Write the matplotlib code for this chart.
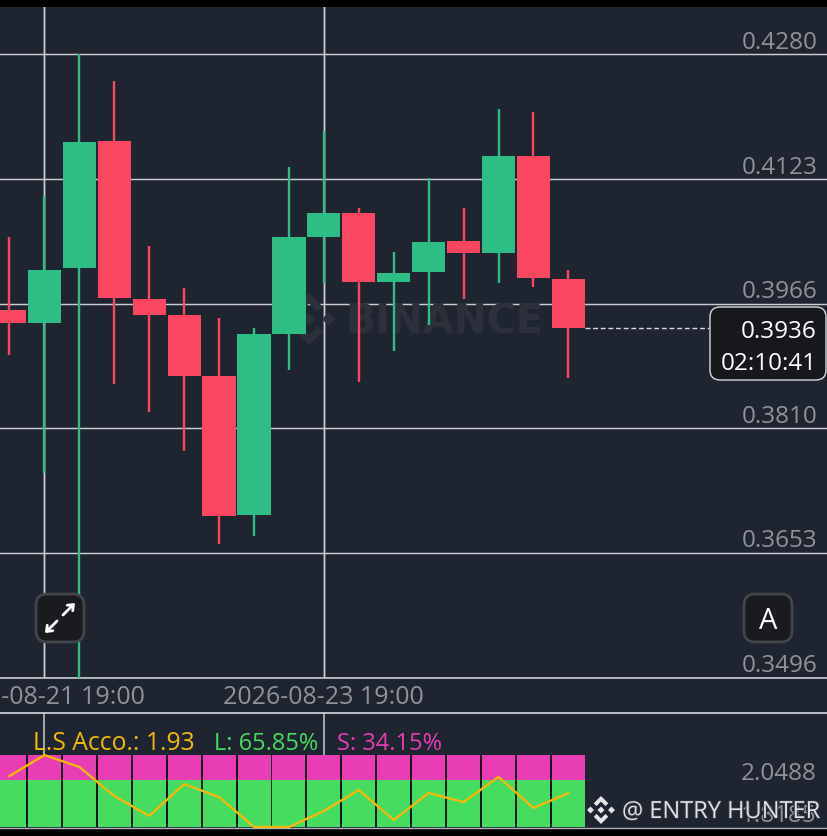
import matplotlib
matplotlib.use("Agg")
import matplotlib.pyplot as plt
import matplotlib.patheffects as pe
from matplotlib.patches import FancyBboxPatch, Polygon

# candles, in price units
opens = [0.3958, 0.3942, 0.4011, 0.4171, 0.3972, 0.3952, 0.3875, 0.3700, 0.3928,
         0.4050, 0.4080, 0.3993, 0.4006, 0.4045, 0.4030, 0.4152, 0.3997]
closes = [0.3942, 0.4008, 0.4169, 0.3973, 0.3952, 0.3875, 0.3699, 0.3928, 0.4050,
          0.4080, 0.3993, 0.4005, 0.4044, 0.4030, 0.4152, 0.3998, 0.3936]
highs = [0.4050, 0.4101, 0.4280, 0.4246, 0.4039, 0.3986, 0.3948, 0.3936, 0.4138,
         0.4183, 0.4086, 0.4031, 0.4124, 0.4086, 0.4211, 0.4207, 0.4008]
lows = [0.3902, 0.3753, 0.3480, 0.3865, 0.3830, 0.3781, 0.3664, 0.3674, 0.3883,
        0.3992, 0.3868, 0.3907, 0.3939, 0.3972, 0.3992, 0.3987, 0.3873]

# long/short account panel
long_pct = [65.4, 65.8, 65.5, 65.4, 65.3, 65.3, 65.3, 65.4, 65.3,
            65.3, 65.3, 65.3, 65.3, 65.4, 65.3, 65.5, 65.85]
ratio = [2.026, 2.144, 2.077, 1.914, 1.802, 1.981, 1.908, 1.740, 1.740,
         1.830, 1.948, 1.779, 1.931, 1.880, 2.021, 1.847, 1.930]

price_ticks = [0.4280, 0.4123, 0.3966, 0.3810, 0.3653, 0.3496]
ratio_ticks = [2.0488, 1.8185]
time_idx = [1, 9]
time_labels = ["2026-08-21 19:00", "2026-08-23 19:00"]
last_price = 0.3936

BG = "#1f2530"
GREEN = "#2ebd85"
RED = "#fb4661"
GRID = "#c9ccd1"
LABEL = "#8f9297"
FONT = "Open Sans"
FS = 17.5

W, H = 828, 836
plt.rcParams["font.family"] = [FONT, "DejaVu Sans"]
fig = plt.figure(figsize=(W / 100, H / 100), dpi=100, facecolor="black")


def box(top, bottom):
    return [0, 1 - bottom / H, 1, (bottom - top) / H]


xlim = (-9.5 / 34.93, (W - 9.5) / 34.93)
xs = list(range(len(opens)))

# overlay in pixel units, for the buttons and logos
top = fig.add_axes([0, 0, 1, 1], zorder=10)
top.set_xlim(0, W)
top.set_ylim(H, 0)
top.axis("off")


def logo(ax, cx, cy, r, color, zorder=5, **kw):
    shapes = [
        [(0, -.25), (.25, 0), (0, .25), (-.25, 0)],
        [(-.75, -.25), (-.5, 0), (-.75, .25), (-1, 0)],
        [(.75, -.25), (1, 0), (.75, .25), (.5, 0)],
        [(0, -1), (.52, -.48), (.32, -.28), (0, -.6), (-.32, -.28), (-.52, -.48)],
        [(0, 1), (.52, .48), (.32, .28), (0, .6), (-.32, .28), (-.52, .48)],
    ]
    for s in shapes:
        pts = [(cx + a * r, cy + b * r) for a, b in s]
        ax.add_patch(Polygon(pts, closed=True, fc=color, ec="none", zorder=zorder,
                             transform=top.transData, **kw))


# ---- main price panel
ax = fig.add_axes(box(7, 677.5), facecolor=BG)
ax.set_xlim(*xlim)
ax.set_ylim(0.3496, 0.4280 + 47 * 0.00012574)
for s in ax.spines.values():
    s.set_visible(False)
ax.spines["bottom"].set_visible(True)
ax.spines["bottom"].set_color(GRID)
ax.spines["bottom"].set_linewidth(1.2)

ax.set_yticks(price_ticks)
ax.set_yticklabels([])
ax.set_xticks(time_idx)
ax.set_xticklabels(time_labels, fontsize=18, color=LABEL)
ax.tick_params(axis="both", length=0, pad=5.5)
ax.grid(True, color=GRID, lw=1.05, zorder=1)
ax.set_axisbelow(True)

for p in price_ticks:
    ax.annotate(f"{p:.4f}", xy=(1, p), xycoords=ax.get_yaxis_transform(),
                xytext=(-7.5, 3.8), textcoords="offset points", ha="right", va="baseline",
                fontsize=FS, color=LABEL, annotation_clip=False, zorder=4)

ax.text(345, 334, "BINANCE", transform=top.transData, fontsize=28.5, fontweight="bold",
        family="DejaVu Sans", color="#2b303a", va="baseline", ha="left", zorder=1.5)
logo(ax, 309, 319, 26, "#2b303a", zorder=1.5)

colors = [GREEN if c >= o else RED for o, c in zip(opens, closes)]
ax.vlines(xs, lows, highs, colors=colors, lw=1.7, zorder=3)
ax.bar(xs, [abs(c - o) for o, c in zip(opens, closes)],
       bottom=[min(o, c) for o, c in zip(opens, closes)],
       width=0.95, color=colors, zorder=3.5)

# last price dashed line, from the last candle to the box
ax.hlines(last_price, xs[-1] + 0.475, (709 - 9.5) / 34.93, colors="#d5d7da", lw=1,
          linestyles=(0, (3.5, 2)), zorder=3)

# ---- strip under the price panel, long/short panel
strip = fig.add_axes(box(677.5, 828), facecolor=BG, zorder=-1)
strip.set_xticks([])
strip.set_yticks([])
for s in strip.spines.values():
    s.set_visible(False)

low = fig.add_axes(box(713, 828), facecolor=BG)
low.set_xlim(*xlim)
low.set_ylim(-1.39, 158.3)
for s in low.spines.values():
    s.set_visible(False)
low.spines["top"].set_visible(True)
low.spines["top"].set_color(GRID)
low.spines["top"].set_linewidth(1.3)
low.spines["bottom"].set_visible(True)
low.spines["bottom"].set_color("#aeb1b6")
low.spines["bottom"].set_linewidth(1)
low.set_xticks([])
low.set_yticks([])
low.vlines(time_idx, 100, 158.3, colors=GRID, lw=1.1, zorder=1)
short_pct = [100 - v for v in long_pct]
low.axhspan(0, 100, xmin=0, xmax=(xs[-1] + 0.475 - xlim[0]) / (xlim[1] - xlim[0]),
            color="#15181d", lw=0, zorder=1.5)
low.bar(xs, long_pct, width=0.945, color="#46dc5f", zorder=2)
low.bar(xs, short_pct, bottom=long_pct, width=0.945, color="#e83db4", zorder=2)

line = low.twinx()
line.set_xlim(*xlim)
line.set_ylim(1.7343, 2.3802)
line.axis("off")
line.plot(xs, ratio, color="#f0b90b", lw=1.7, zorder=3)

for v, yp in zip(ratio_ticks, [780.5, 821.5]):
    top.text(816.5, yp, f"{v:.4f}", ha="right", va="baseline", fontsize=FS, color=LABEL, zorder=2)

top.text(33, 749.5, "L.S Acco.: 1.93", color="#f0b90b", fontsize=17.8, va="baseline")
top.text(214, 749.5, "L: 65.85%", color="#46dc5f", fontsize=17, va="baseline")
top.text(337, 749.5, "S: 34.15%", color="#e83db4", fontsize=17, va="baseline")

# vertical crosshair-like grid lines run through both panels' gap
for i in time_idx:
    ax.axvline(i, color=GRID, lw=1.05, zorder=1)

# ---- last price box
top.add_patch(FancyBboxPatch((710, 307), 116, 73, boxstyle="round,pad=0,rounding_size=10",
                             fc="#16181c", ec="#d8dadd", lw=1, zorder=3))
top.text(816.5, 337.5, "0.3936", color="white", fontsize=FS, ha="right", va="baseline", zorder=4)
top.text(816.5, 369.5, "02:10:41", color="white", fontsize=FS, ha="right", va="baseline", zorder=4)

# ---- buttons
for bx in (36, 744):
    top.add_patch(FancyBboxPatch((bx, 594), 48, 48, boxstyle="round,pad=0,rounding_size=11",
                                 fc="#191b1f", ec="#42454b", lw=2, zorder=3))
top.text(768, 629, "A", color="white", fontsize=21, ha="center", va="baseline", zorder=4)
for start, end in [((63, 615), (75, 603)), ((57, 621), (45, 633))]:
    top.annotate("", xy=end, xytext=start, zorder=4,
                 arrowprops=dict(arrowstyle="->,head_length=0.35,head_width=0.28",
                                 color="white", lw=2, shrinkA=0, shrinkB=0))

# ---- watermark
logo(top, 601, 810, 14, "#e4e5e7", zorder=6)
top.text(622, 818, "@ ENTRY HUNTER", color="#dfe0e2", fontsize=17, va="baseline", zorder=6,
         path_effects=[pe.withStroke(linewidth=1.5, foreground="#30343c")])

fig.savefig("out.png", dpi=100, facecolor="black")
